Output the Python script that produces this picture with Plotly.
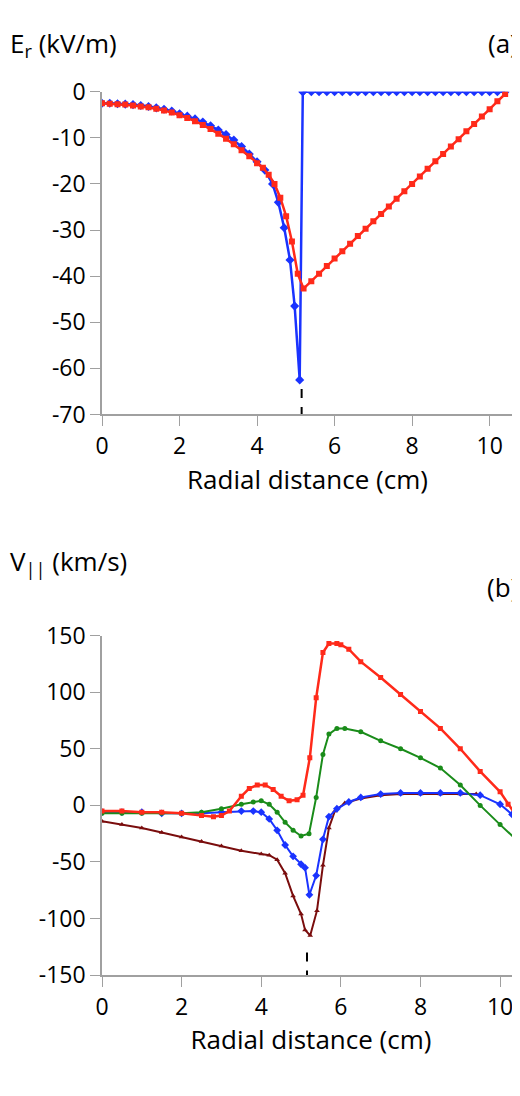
import plotly.graph_objects as go

# panel (a): radial electric field
a_blue_x = [0, 0.2, 0.4, 0.6, 0.8, 1.0, 1.2, 1.4, 1.6, 1.8, 2.0, 2.2, 2.4, 2.6, 2.8, 3.0, 3.2, 3.4, 3.6, 3.8,
            4.0, 4.2, 4.35, 4.5, 4.6, 4.72, 4.85, 4.97, 5.1, 5.18]
a_blue_y = [-2.5, -2.5, -2.6, -2.7, -2.8, -3.0, -3.2, -3.5, -3.8, -4.2, -4.8, -5.3, -5.9, -6.6, -7.4, -8.3, -9.3, -10.5, -11.9, -13.5,
            -15.2, -17.0, -20.0, -24.0, -29.5, -36.5, -46.5, -62.5, 0.0, 0.0]
a_blue_x = a_blue_x[:27] + [5.1, 5.18]
a_blue_y = [-2.5, -2.5, -2.6, -2.7, -2.8, -3.0, -3.2, -3.5, -3.8, -4.2, -4.8, -5.3, -5.9, -6.6, -7.4, -8.3, -9.3, -10.5, -11.9, -13.5,
            -15.2, -17.0, -20.0, -24.0, -29.5, -36.5, -46.5, -62.5, 0.0]
a_blue_x = [0, 0.2, 0.4, 0.6, 0.8, 1.0, 1.2, 1.4, 1.6, 1.8, 2.0, 2.2, 2.4, 2.6, 2.8, 3.0, 3.2, 3.4, 3.6, 3.8,
            4.0, 4.2, 4.35, 4.5, 4.6, 4.72, 4.85, 4.97, 5.1, 5.18][:20] + [4.0, 4.2, 4.4, 4.55, 4.7, 4.85, 4.97, 5.1, 5.18]
a_blue_tail_x = [5.18, 5.4, 5.6, 5.8, 6.0, 6.2, 6.4, 6.6, 6.8, 7.0, 7.2, 7.4, 7.6, 7.8, 8.0, 8.2, 8.4, 8.6, 8.8, 9.0,
                 9.2, 9.4, 9.6, 9.8, 10.0, 10.2, 10.4]
a_blue_tail_y = [0.0] * 27
a_red_x = [0, 0.2, 0.4, 0.6, 0.8, 1.0, 1.2, 1.4, 1.6, 1.8, 2.0, 2.2, 2.4, 2.6, 2.8, 3.0, 3.2, 3.4, 3.6, 3.8,
           4.0, 4.15, 4.3, 4.45, 4.6, 4.75, 4.9, 5.05, 5.2, 5.4, 5.6, 5.8, 6.0, 6.2, 6.4, 6.6, 6.8, 7.0, 7.2, 7.4,
           7.6, 7.8, 8.0, 8.2, 8.4, 8.6, 8.8, 9.0, 9.2, 9.4, 9.6, 9.8, 10.0, 10.2, 10.4]
a_red_y = [-2.5, -2.6, -2.7, -2.8, -3.0, -3.2, -3.4, -3.7, -4.1, -4.5, -5.1, -5.7, -6.4, -7.2, -8.1, -9.1, -10.2, -11.4, -12.7, -14.0,
           -15.5, -16.5, -18.0, -20.0, -23.0, -27.0, -32.5, -39.5, -42.7, -41.1, -39.5, -37.8, -36.2, -34.6, -33.0, -31.3, -29.7, -28.1, -26.5, -24.9,
           -23.2, -21.6, -20.0, -18.4, -16.7, -15.1, -13.5, -11.9, -10.3, -8.6, -7.0, -5.4, -3.8, -2.1, -0.5]

# panel (b): parallel flow velocity
b_red_x = [0, 0.5, 1.0, 1.5, 2.0, 2.5, 2.8, 3.0, 3.2, 3.5, 3.7, 3.9, 4.1, 4.3, 4.5, 4.7, 4.9, 5.05, 5.22, 5.38, 5.55,
           5.7, 5.9, 6.0, 6.2, 6.5, 7.0, 7.5, 8.0, 8.5, 9.0, 9.5, 10.0, 10.2, 10.4]
b_red_y = [-5, -5, -6, -6, -7, -9, -10, -9, -5, 8, 15, 18, 18, 14, 8, 4, 5, 9, 42, 95, 135,
           143, 143, 142, 138, 127, 113, 98, 83, 68, 50, 30, 12, 1, -9]
b_green_x = [0, 0.5, 1.0, 1.5, 2.0, 2.5, 3.0, 3.5, 3.8, 4.0, 4.2, 4.4, 4.6, 4.8, 5.0, 5.2, 5.38, 5.55,
             5.7, 5.9, 6.1, 6.5, 7.0, 7.5, 8.0, 8.5, 9.0, 9.5, 10.0, 10.4]
b_green_y = [-7, -7, -7, -7, -7, -6, -3, 1, 3, 4, 1, -6, -15, -22, -27, -25, 7, 45,
             63, 68, 68, 65, 57, 50, 42, 33, 18, 0, -17, -30]
b_blue_x = [0, 0.5, 1.0, 1.5, 2.0, 2.5, 3.0, 3.5, 3.8, 4.0, 4.2, 4.4, 4.6, 4.8, 5.0, 5.1, 5.21, 5.38, 5.55,
            5.7, 5.9, 6.2, 6.5, 7.0, 7.5, 8.0, 8.5, 9.0, 9.5, 10.0, 10.3]
b_blue_y = [-6, -6, -6, -7, -7, -7, -6, -5, -5, -6, -12, -22, -35, -45, -52, -55, -79, -62, -30,
            -10, -3, 3, 7, 10, 11, 11, 11, 11, 9, 1, -8]
b_brown_x = [0, 0.5, 1.0, 1.5, 2.0, 2.5, 3.0, 3.5, 4.0, 4.2, 4.4, 4.6, 4.8, 5.0, 5.1, 5.23, 5.4, 5.55,
             5.7, 5.85, 6.1, 6.5, 7.0, 7.5, 8.0, 8.5, 9.0, 9.4]
b_brown_y = [-14, -17, -20, -24, -28, -32, -36, -40, -43, -44, -48, -60, -80, -96, -110, -115, -93, -53,
             -20, -5, 2, 6, 9, 10, 10, 10, 10, 10]

x_ticks = [0, 2, 4, 6, 8, 10]
a_ticks = [0, -10, -20, -30, -40, -50, -60, -70]
a_tick_text = ["0", "-10", "-20", "-30", "-40", "-50", "-60", "-70"]
b_ticks = [150, 100, 50, 0, -50, -100, -150]
b_tick_text = ["150", "100", "50", "0", "-50", "-100", "-150"]

RED = "#ff2a1a"
BLUE = "#1a33ff"
GREEN = "#1a8c1a"
BROWN = "#7a0d0d"


def line(x, y, color, symbol, xa, ya, size=6, width=2.5):
    return go.Scatter(x=x, y=y, mode="lines+markers", xaxis=xa, yaxis=ya, showlegend=False,
                      line=dict(color=color, width=width),
                      marker=dict(color=color, symbol=symbol, size=size))


fig = go.Figure()
fig.add_trace(line(a_blue_x, a_blue_y, BLUE, "diamond", "x", "y", 7))
fig.add_trace(line(a_blue_tail_x, a_blue_tail_y, BLUE, "diamond", "x", "y", 7))
fig.add_trace(line(a_red_x, a_red_y, RED, "square", "x", "y", 6))
fig.add_trace(go.Scatter(x=[5.15, 5.15], y=[-64.5, -70], mode="lines", xaxis="x", yaxis="y",
                         showlegend=False, line=dict(color="black", width=2, dash="dash")))

fig.add_trace(line(b_brown_x, b_brown_y, BROWN, "triangle-up", "x2", "y2", 5, 2))
fig.add_trace(line(b_blue_x, b_blue_y, BLUE, "diamond", "x2", "y2", 6, 2))
fig.add_trace(line(b_green_x, b_green_y, GREEN, "circle", "x2", "y2", 5, 2))
fig.add_trace(line(b_red_x, b_red_y, RED, "square", "x2", "y2", 5, 2.5))
fig.add_trace(go.Scatter(x=[5.15, 5.15], y=[-130, -150], mode="lines", xaxis="x2", yaxis="y2",
                         showlegend=False, line=dict(color="black", width=2, dash="dash")))

ax = dict(showgrid=False, zeroline=False, showline=True, linecolor="#a0a0a0", linewidth=1.5,
          ticks="outside", ticklen=10, tickcolor="#a0a0a0", tickfont=dict(size=23, color="black"))

fig.update_layout(
    width=520, height=1096,
    margin=dict(l=94, r=8, t=10, b=10),
    plot_bgcolor="white", paper_bgcolor="white",
    font=dict(family="Open Sans", color="black", size=23),
    xaxis=dict(ax, domain=[0, 0.983], range=[0, 10.6], tickvals=x_ticks, anchor="y",
               title=dict(text="Radial distance (cm)", font=dict(size=26), standoff=10)),
    yaxis=dict(ax, domain=[0.636, 0.944], range=[-70, 0], tickvals=a_ticks, ticktext=a_tick_text,
               anchor="x"),
    xaxis2=dict(ax, domain=[0, 1], range=[0, 10.5], tickvals=x_ticks, anchor="y2",
                title=dict(text="Radial distance (cm)", font=dict(size=26), standoff=10)),
    yaxis2=dict(ax, domain=[0.101, 0.425], range=[-150, 150], tickvals=b_ticks, ticktext=b_tick_text,
                anchor="x2"),
    annotations=[
        dict(text="E<sub>r</sub> (kV/m)", x=0, y=1, xref="paper", yref="paper", xanchor="left",
             yanchor="top", xshift=-94, yshift=10, showarrow=False, font=dict(size=26)),
        dict(text="(a)", x=1, y=1, xref="paper", yref="paper", xanchor="right",
             yanchor="top", yshift=10, showarrow=False, font=dict(size=26)),
        dict(text="V<sub>||</sub> (km/s)", x=0, y=0.515, xref="paper", yref="paper", xanchor="left",
             yanchor="top", xshift=-94, showarrow=False, font=dict(size=26)),
        dict(text="(b)", x=1, y=0.49, xref="paper", yref="paper", xanchor="right",
             yanchor="top", showarrow=False, font=dict(size=26)),
    ],
)

fig.write_html("out.html")
